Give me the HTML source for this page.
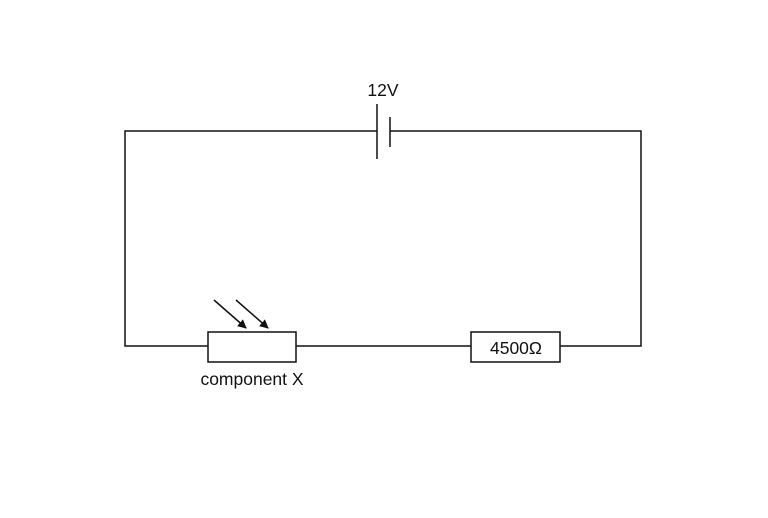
<!DOCTYPE html>
<html><head><style>body{margin:0;background:#fff}svg{display:block}</style></head><body>
<svg width="768" height="518" viewBox="0 0 768 518" xmlns="http://www.w3.org/2000/svg">
<defs><marker id="a" markerWidth="9" markerHeight="9" refX="8" refY="4.5" orient="auto" markerUnits="userSpaceOnUse"><path d="M0,0 L9,4.5 L0,9 Z" fill="#111"/></marker></defs>
<g stroke="#111" stroke-width="1.5" fill="none">
<polyline points="377,131 125,131 125,346 208,346"/>
<polyline points="390,131 641,131 641,346 560,346"/>
<line x1="296" y1="346" x2="471" y2="346"/>
<line x1="377" y1="104" x2="377" y2="159"/>
<line x1="390" y1="117" x2="390" y2="147"/>
<rect x="208" y="332" width="88" height="30" fill="#fff"/>
<rect x="471" y="332" width="89" height="30" fill="#fff"/>
<line x1="214" y1="300" x2="246" y2="328" marker-end="url(#a)"/>
<line x1="236" y1="300" x2="268" y2="328" marker-end="url(#a)"/>
</g>
<g font-family="Liberation Sans, sans-serif" font-size="17.5" fill="#111">
<text x="383" y="96" text-anchor="middle">12V</text>
<text x="516" y="354" text-anchor="middle">4500Ω</text>
<text x="252" y="385" text-anchor="middle">component X</text>
</g>
</svg>
</body></html>
